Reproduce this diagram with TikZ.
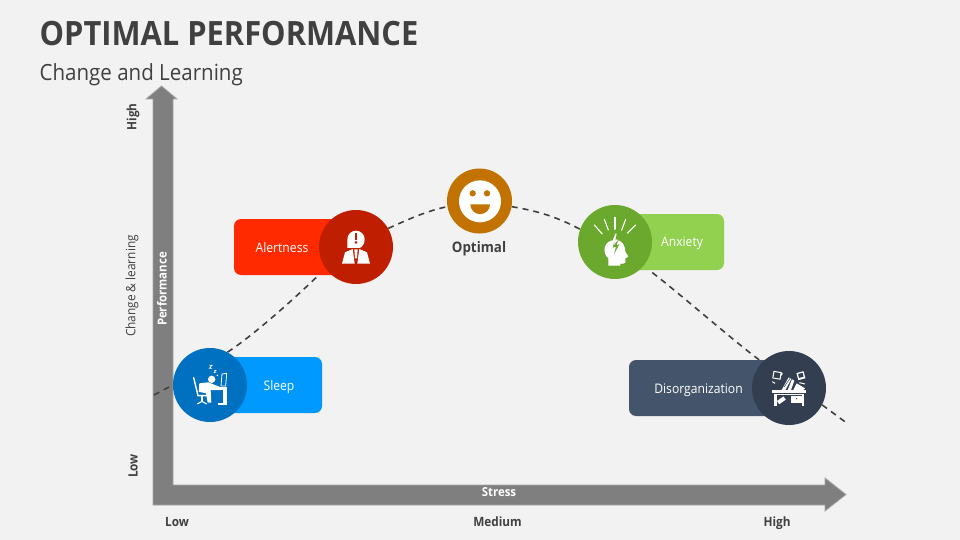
\documentclass[tikz,border=0pt]{standalone}
\usepackage{fontspec}
\setmainfont[FakeStretch=0.92]{Open Sans}
\newfontfamily\headfont[FakeStretch=0.92]{Open Sans}
\pgfdeclarelayer{under}
\pgfsetlayers{under,main}
\definecolor{bgc}{HTML}{F2F2F2}
\definecolor{inkc}{HTML}{404040}
\definecolor{axisc}{HTML}{7F7F7F}
\definecolor{axisl}{HTML}{A6A6A6}
\definecolor{sleepL}{HTML}{0099FF}
\definecolor{sleepD}{HTML}{0070C0}
\definecolor{alertL}{HTML}{FF2A00}
\definecolor{alertD}{HTML}{C01E00}
\definecolor{optD}{HTML}{C27200}
\definecolor{anxL}{HTML}{92D050}
\definecolor{anxD}{HTML}{6AA82E}
\definecolor{disL}{HTML}{44546A}
\definecolor{disD}{HTML}{333F50}
\tikzset{
  bar/.style={rectangle,rounded corners=7pt,minimum height=56pt,inner sep=0pt,draw=none},
  disc/.style={circle,minimum size=74pt,inner sep=0pt,draw=none},
  lbl/.style={text=white,font=\fontsize{13.2}{16}\selectfont,inner sep=0pt},
  axt/.style={text=inkc,font=\fontsize{12.8}{15}\selectfont\bfseries,inner sep=0pt},
  curve/.style={draw=inkc,line width=1.6pt,dash pattern=on 6pt off 5pt},
  ico/.style={fill=white,draw=none},
}
\begin{document}
\begin{tikzpicture}[x=1pt,y=-1pt]
\useasboundingbox (0,0) rectangle (960,540);

% bars
\node[bar,fill=sleepL,minimum width=112pt] (sleepbar) at (266,385) {};
\node[bar,fill=alertL,minimum width=110pt] (alertbar) at (289,247) {};
\node[bar,fill=anxL,minimum width=94pt] (anxbar) at (677,242) {};
\node[bar,fill=disL,minimum width=160pt] (disbar) at (709,388) {};
% discs
\node[disc,fill=sleepD] (sleep) at (210,385) {};
\node[disc,fill=alertD] (alert) at (356,247) {};
\node[disc,fill=optD,minimum size=65pt] (optimal) at (479.5,201) {};
\node[disc,fill=anxD] (anxiety) at (615,242) {};
\node[disc,fill=disD] (disorg) at (789,388) {};
\coordinate (curveStart) at (154,395);
\coordinate (curveEnd) at (848,424);

\begin{pgfonlayer}{under}
  \fill[bgc] (0,0) rectangle (960,540);
  \path[fill=axisc,draw=axisl,line width=.8pt]
    (153,505) -- (153,99) -- (146,99) -- (161.5,86) -- (177,99) -- (173,99)
    -- (173,485) -- (825,485) -- (825,478) -- (846,494.5) -- (825,511) -- (825,505) -- cycle;
  \path[curve] (curveStart) -- (sleep.west);
  \path[curve] (sleep.62) .. controls +(28,-18) and +(-22,22) .. (alert.215);
  \path[curve] (alert.30) .. controls +(20,-9) and +(-20,4) .. (optimal.190);
  \path[curve] (optimal.-10) .. controls +(25,4) and +(-22,-12) .. (anxiety.160);
  \path[curve] (anxiety.-40) .. controls +(30,22) and +(-30,-22) .. (disorg.136);
  \path[curve] (disorg.-27) -- (curveEnd);
\end{pgfonlayer}

% title
\node[anchor=base west,inner sep=0pt,text=inkc,font=\headfont\fontsize{33.5}{38}\selectfont\bfseries] (title) at (39.5,46) {OPTIMAL PERFORMANCE};
\node[anchor=base west,inner sep=0pt,text=inkc,font=\headfont\fontsize{22.3}{24}\selectfont] (subtitle) at (39.5,81) {Change and Learning};

% axis labels
\node[axt,rotate=90] (yhigh) at (133,117) {High};
\node[text=inkc,font=\fontsize{12.9}{15}\selectfont,inner sep=0pt,rotate=90] (ylab) at (132,286) {Change \& learning};
\node[axt,rotate=90] (ylow) at (133,466) {Low};
\node[text=white,font=\fontsize{12.4}{15}\selectfont\bfseries,inner sep=0pt,rotate=90] (perf) at (162,289) {Performance};
\node[text=white,font=\fontsize{12.4}{15}\selectfont\bfseries,inner sep=0pt] (stress) at (499,492.5) {Stress};
\node[axt,anchor=base] (xlow) at (177,526) {Low};
\node[axt,anchor=base] (xmed) at (497.5,526) {Medium};
\node[axt,anchor=base] (xhigh) at (777,526) {High};

% labels
\node[lbl,anchor=base] (sleepT) at (279,390) {Sleep};
\node[lbl,anchor=base] (alertT) at (282,252) {Alertness};
\node[lbl,anchor=base] (anxT) at (682,246) {Anxiety};
\node[lbl,anchor=base] (disT) at (698.5,393) {Disorganization};
\node[text=inkc,font=\fontsize{14.5}{16}\selectfont\bfseries,inner sep=0pt,anchor=base] (optT) at (479,252) {Optimal};

% sleep icon
\begin{scope}[shift={(140,330)},scale=1/3]
  \draw[white,line width=1.4pt,line cap=round] (161,143) -- (174,197) -- (200,197);
  \fill[ico] (215,148) circle (11);
  \fill[ico] (178,160) -- (205,157) -- (238,170) -- (238,180) -- (212,180) -- (214,218) -- (203,218) -- (198,190) -- (176,185) -- cycle;
  \fill[ico] (205,172) rectangle (260,181);
  \fill[ico] (248,181) rectangle (260,222);
  \fill[ico] (235,218) rectangle (260,224);
  \draw[white,line width=.8pt] (246,132) -- (260,130) -- (257,168) -- (243,168) -- cycle;
  \draw[white,line width=1.2pt] (186,198) -- (186,216);
  \draw[white,line width=1.1pt] (172,222) -- (186,214) -- (200,222);
  \draw[white,line width=.7pt] (208,106) -- (216,106) -- (208,115) -- (216,115);
  \draw[white,line width=.6pt] (222,121) -- (228,121) -- (222,128) -- (228,128);
  \fill[ico] (232,136) circle (2.5);
\end{scope}

% alert icon
\begin{scope}[shift={(230,160)},scale=1/3]
  \fill[ico] (352,264) -- (352,238) arc[start angle=180,end angle=360,radius=26] .. controls (404,252) and (396,262) .. (388,264) -- cycle;
  \fill[alertD] (374,219) rectangle (382,240);
  \fill[alertD] (378,247) circle (4.5);
  \fill[ico] (336,311) -- (345,277) -- (368,267) -- (374,311) -- cycle;
  \fill[ico] (420,311) -- (411,277) -- (388,267) -- (382,311) -- cycle;
  \fill[ico] (373,268) -- (383,268) -- (381,295) -- (375,295) -- cycle;
\end{scope}

% smiley
\begin{scope}[shift={(230,160)},scale=1/3]
  \fill[ico] (750,124) circle (63);
  \fill[optD] (728,100) circle (9.5);
  \fill[optD] (771,100) circle (9.5);
  \fill[optD] (780,133) arc[start angle=0,end angle=180,radius=29.5] -- cycle;
\end{scope}

% anxiety icon
\begin{scope}[shift={(560,195)},scale=1/3]
  \draw[white,line width=1.1pt,line cap=round] (103,90) -- (127,117);
  \draw[white,line width=1.1pt,line cap=round] (133,73) -- (145,105);
  \draw[white,line width=1.1pt,line cap=round] (165,67) -- (165,103);
  \draw[white,line width=1.1pt,line cap=round] (197,73) -- (185,105);
  \draw[white,line width=1.1pt,line cap=round] (227,90) -- (202,115);
  \fill[ico] (145,212) -- (145,190) .. controls (125,175) and (130,135) .. (165,135)
    .. controls (190,135) and (195,155) .. (196,170) -- (205,185) -- (196,190) -- (196,203)
    .. controls (190,208) and (185,206) .. (181,206) -- (181,212) -- cycle;
  \fill[anxD] (165,130) -- (158,158) -- (168,155) -- (162,178) -- (178,148) -- (170,150) -- (176,130) -- cycle;
  \fill[ico] (166,116) -- (156,142) -- (164,142) -- (160,152) -- (174,134) -- (166,134) -- (170,116) -- cycle;
\end{scope}

% disorganization icon
\begin{scope}[shift={(740,340)},scale=1/3]
  \fill[ico] (97,150) rectangle (197,158);
  \fill[ico] (103,162) rectangle (110,197);
  \fill[ico] (187,162) rectangle (193,197);
  \fill[ico] (110,162) rectangle (187,165);
  \fill[ico] (152,167) rectangle (188,188);
  \fill[disD] (170,176) circle (2);
  \fill[ico,rotate around={35:(124,181)}] (112,175) rectangle (136,187);
  \draw[white,line width=1pt,rotate around={-10:(112,106)}] (100,96) rectangle (122,116);
  \draw[white,line width=1.4pt] (122,106) -- (127,100);
  \fill[ico,rotate around={15:(183,108)}] (172,96) rectangle (194,118);
  \fill[disD,rotate around={15:(183,108)}] (176,100) rectangle (190,112);
  \fill[ico] (125,150) -- (146,112) -- (154,117) -- (136,150) -- cycle;
  \fill[ico] (143,150) -- (156,118) -- (163,122) -- (153,150) -- cycle;
  \draw[disD,line width=.5pt] (133,140) -- (150,115);
  \fill[ico] (160,150) -- (170,130) -- (195,145) -- (190,150) -- cycle;
  \draw[white,line width=1pt] (97,125) -- (105,130);
  \draw[white,line width=1pt] (178,128) -- (195,132);
\end{scope}
\end{tikzpicture}
\end{document}
